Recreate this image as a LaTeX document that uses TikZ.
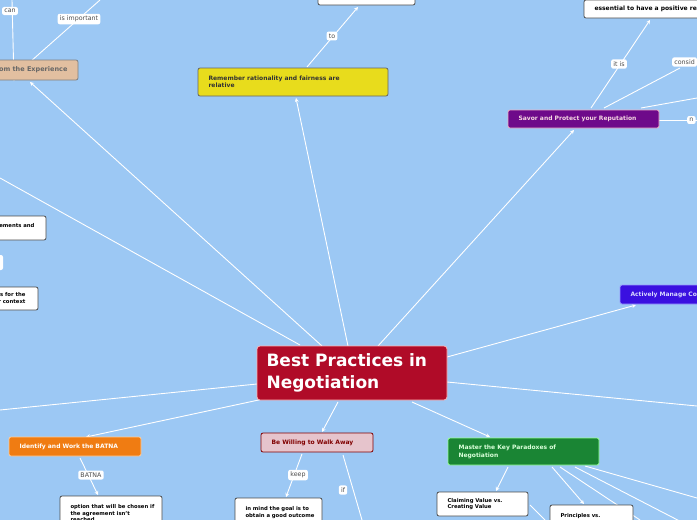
\documentclass[tikz,border=0pt]{standalone}
\usepackage{fontspec}
\setmainfont{DejaVu Sans}
\usetikzlibrary{arrows.meta,calc}
\definecolor{bg}{HTML}{9CC8F4}
\tikzset{
 x=1pt,y=-1pt,
 lab/.style={fill=white,rounded corners=2pt,inner sep=2.2pt,font=\fontsize{6.3}{7}\selectfont,text=black!70},
 ln/.style={draw=white,line width=0.9pt},
 ar/.style={ln,-{Stealth[length=4pt,width=4pt]}},
 bt/.style={anchor=west,align=left,font=\bfseries\fontsize{6}{7.5}\selectfont},
 st/.style={anchor=north west,align=left,font=\bfseries\fontsize{5.3}{6.5}\selectfont},
 wbox/.style={fill=white,draw=black!70,rounded corners=2pt,line width=0.8pt},
}
\begin{document}
\begin{tikzpicture}
\clip (0,0) rectangle (697,520);
\fill[bg] (0,0) rectangle (697,520);
% connectors
\coordinate (c1) at (12,0);\coordinate (c2) at (100,0);
\draw[ln] (14,81) -- (c1);
\draw[ln] (30,62) -- (c2);
\draw[ar] (307,67) -- (358,7);
\draw[ar] (348,346) -- (296,98);
\draw[ar] (322,346) -- (30,82);
\draw[ln] (300,345) -- (0,178);
\draw[ar] (378,346) -- (574,130);
\draw[ar] (591,108) -- (650,20);
\draw[ln] (604,108) -- (680,68);
\draw[ln] (641,108) -- (697,98);
\draw[ln] (659,120) -- (697,120);
\draw[ar] (447,357) -- (636,305);
\draw[ln] (447,382) -- (697,406);
\draw[ln] (257,384) -- (0,410);
\draw[ar] (268,398) -- (86,437);
\draw[ar] (80,458) -- (98,495);
\draw[ar] (338,402) -- (322,432);
\draw[ar] (302,454) -- (286,497);
\draw[ln] (343,455) -- (362,520);
\draw[ar] (412,402) -- (490,437);
\draw[ar] (508,467) -- (496,491);
\draw[ar] (552,467) -- (584,504);
\draw[ln] (560,467) -- (640,520);
\draw[ln] (575,467) -- (697,530);
\draw[ln] (585,466) -- (697,498);
\draw[ln] (530,505) -- (545,520);
% labels
\node[lab] at (10,11) {can};
\node[lab] at (79,19) {is important};
\node[lab] at (332,36) {to};
\node[lab] at (619,64) {it is};
\node[lab,anchor=west] at (672,62) {consid};
\node[lab,anchor=west] at (687,120) {n};
\node[lab] at (91,475) {BATNA};
\node[lab] at (298,475) {keep};
\node[lab] at (343,490) {if};
\fill[white,rounded corners=2pt] (-5,255) rectangle (3,270);
% boxes
\filldraw[fill={rgb,255:red,226;green,191;blue,160},draw=black!50,rounded corners=2pt,line width=0.8pt] (-10,60) rectangle (78,80);
\node[anchor=east,font=\bfseries\fontsize{6.5}{7}\selectfont,text=black!60] (exp) at (71,70) {Learn from the Experience};
\filldraw[wbox] (318,-5) rectangle (415,5);
\filldraw[fill={rgb,255:red,232;green,220;blue,28},draw=black!60,rounded corners=2pt,line width=0.8pt] (198,68) rectangle (388,96);
\node[bt,text=black!80] (rat) at (205,82) {Remember rationality and fairness are\\relative};
\filldraw[wbox] (-5,216) rectangle (46,240);
\node[anchor=east,font=\bfseries\fontsize{5.3}{6}\selectfont] (l1) at (38,226) {elements and};
\filldraw[wbox] (-5,287) rectangle (38,310);
\node[anchor=east,align=right,font=\bfseries\fontsize{5.3}{6.3}\selectfont] (l2) at (29,298) {rs for the\\r context};
\filldraw[wbox] (584,0) rectangle (705,18);
\node[bt] (ess) at (591,9) {essential to have a positive reputation};
\filldraw[fill={rgb,255:red,110;green,10;blue,138},draw=white!70!purple,rounded corners=2pt,line width=0.8pt] (508,110) rectangle (659,128);
\node[bt,text=white!85!purple] (sav) at (515,119) {Savor and Protect your Reputation};
\filldraw[fill={rgb,255:red,58;green,16;blue,224},draw=white!60!blue,rounded corners=2pt,line width=0.8pt] (620,285) rectangle (705,304);
\node[bt,text=white!85!blue] (act) at (627,295) {Actively Manage Conflict};
\filldraw[fill={rgb,255:red,176;green,11;blue,40},draw=white!70!red,rounded corners=3pt,line width=0.8pt] (257,346) rectangle (447,400);
\node[anchor=west,align=left,font=\bfseries\fontsize{17}{21.5}\selectfont,text=white] (main) at (263,373) {Best Practices in\\Negotiation};
\filldraw[fill={rgb,255:red,240;green,124;blue,18},draw=white!60!orange,rounded corners=2pt,line width=0.8pt] (9,437) rectangle (141,456);
\node[bt,text=white] (bat) at (16,447) {Identify and Work the BATNA};
\filldraw[fill={rgb,255:red,230;green,196;blue,204},draw=black!50!red,rounded corners=2pt,line width=0.8pt] (261,433) rectangle (373,452);
\node[bt,text=black!50!red] (walk) at (268,443) {Be Willing to Walk Away};
\filldraw[fill={rgb,255:red,26;green,133;blue,52},draw=white!60!green,rounded corners=2pt,line width=0.8pt] (448,438) rectangle (599,465);
\node[bt,text=white!85!green] (par) at (455,452) {Master the Key Paradoxes of\\Negotiation};
\filldraw[wbox] (60,496) rectangle (162,530);
\node[st] (opt) at (67,501) {option that will be chosen if\\the agreement isn't\\reached};
\filldraw[wbox] (235,498) rectangle (322,530);
\node[st] (goal) at (242,503) {in mind the goal is to\\obtain a good outcome};
\filldraw[wbox] (437,492) rectangle (528,516);
\node[st,anchor=west] (cla) at (444,504) {Claiming Value vs.\\Creating Value};
\filldraw[wbox] (550,505) rectangle (633,530);
\node[st] (pri) at (557,510) {Principles vs.};
\end{tikzpicture}
\end{document}
